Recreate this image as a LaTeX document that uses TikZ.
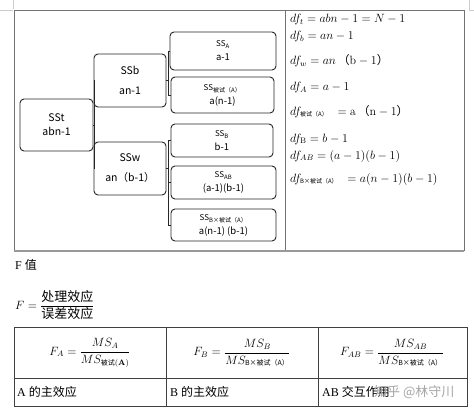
\documentclass[tikz,border=0pt]{standalone}
\usepackage{amsmath}
\usepackage[no-math]{fontspec}
\setmainfont{Liberation Serif}
\newfontfamily\cjk{Noto Sans CJK SC}
\newcommand\zh[1]{{\cjk #1}}
\begin{document}
\begin{tikzpicture}[x=1pt,y=-1pt,
  bigbox/.style={draw=black!85,line width=0.9pt,rounded corners=4pt,inner sep=0pt,align=center,
    font=\cjk\fontsize{10.5}{15}\selectfont},
  smallbox/.style={draw=black!85,line width=0.9pt,rounded corners=4pt,inner sep=0pt,align=center,
    font=\cjk\fontsize{9.5}{14}\selectfont},
  conn/.style={draw=black!85,line width=0.7pt},
  eq/.style={anchor=base west,inner sep=0pt,font=\fontsize{11.8}{13}\selectfont},
  tline/.style={draw=black!75,line width=0.6pt},
  fcell/.style={inner sep=0pt,font=\fontsize{12}{14}\selectfont},
  txt/.style={anchor=base west,inner sep=0pt,font=\fontsize{12}{14}\selectfont}]
\useasboundingbox[fill=white] (0,0) rectangle (474,412);
% faint corner marks
\draw[black!20,line width=0.5pt] (13,0) -- (13,9) (0,10) -- (13,10);
\draw[black!20,line width=0.5pt] (469,0) -- (469,10) -- (474,10);
% top table
\draw[black!55,line width=0.8pt] (14,251) -- (14,10) -- (464,10) -- (464,251);
\draw[black!55,line width=0.8pt] (285,10) -- (285,251);
\draw[black!40,line width=1.6pt] (14,251) -- (464,251);
% boxes
\node[bigbox,minimum width=73,minimum height=52] (SSt) at (56.5,125) {SSt\\[-1pt]abn-1};
\node[bigbox,minimum width=72,minimum height=53] (SSb) at (130,80.5) {SSb\\[5pt]an-1};
\node[bigbox,minimum width=72,minimum height=53] (SSw) at (130,168.5) {SSw\\[5pt]an（b-1）};
\node[smallbox,minimum width=106,minimum height=38] (SSA) at (223,51) {{\fontsize{8}{10}\selectfont SS\textsubscript{A}}\\a-1};
\node[smallbox,minimum width=103,minimum height=36] (SSS) at (222.5,95) {{\fontsize{8}{10}\selectfont SS\textsubscript{被试（A）}}\\a(n-1)};
\node[smallbox,minimum width=102,minimum height=33] (SSB) at (222,140.5) {{\fontsize{8}{10}\selectfont SS\textsubscript{B}}\\b-1};
\node[smallbox,minimum width=105,minimum height=33] (SSAB) at (223.5,182.5) {{\fontsize{8}{10}\selectfont SS\textsubscript{AB}}\\(a-1)(b-1)};
\node[smallbox,minimum width=105,minimum height=32] (SSBS) at (223.5,225) {{\fontsize{8}{10}\selectfont SS\textsubscript{B×被试（A）}}\\a(n-1) (b-1)};
% connectors
\draw[conn] (SSt.east) -- ++(1,0) |- (SSb.west);
\draw[conn] (SSt.east) -- ++(1,0) |- (SSw.west);
\foreach \c in {SSA,SSS} \draw[conn] (SSb.east) -- ++(2,0) |- (\c.west);
\foreach \c in {SSB,SSAB,SSBS} \draw[conn] (SSw.east) -- ++(2,0) |- (\c.west);
% df equations
\node[eq] (d1) at (290,23) {$df_t=abn-1=N-1$};
\node[eq] (d2) at (290,40) {$df_b=an-1$};
\node[eq] (d3) at (290,65) {$df_w=an\,\text{\cjk（}\mathrm{b}-1\text{\cjk）}$};
\node[eq] (d4) at (290,91) {$df_A=a-1$};
\node[eq] (d5) at (290,115) {$df_{\text{\cjk\fontsize{6}{7}\selectfont 被试（A）}}\ \ =\mathrm{a}\,\text{\cjk（}\mathrm{n}-1\text{\cjk）}$};
\node[eq] (d6) at (290,142) {$df_{\mathrm{B}}=b-1$};
\node[eq] (d7) at (290,159) {$df_{AB}=(a-1)(b-1)$};
\node[eq] (d8) at (290,182) {$df_{\text{\cjk\fontsize{6}{7}\selectfont B×被试（A）}}\ \ =a(n-1)(b-1)$};
% F value
\node[txt] (fv) at (15,269) {F \zh{值}};
\node[anchor=west,inner sep=0pt,font=\fontsize{12}{14}\selectfont] (ff) at (15,305)
  {$F=\dfrac{\text{\cjk\fontsize{13}{15}\selectfont 处理效应}}{\text{\cjk\fontsize{13}{15}\selectfont 误差效应}}$};
% bottom table
\draw[tline] (14,327) rectangle (467,406);
\draw[tline] (14,378) -- (467,378);
\draw[tline] (166,327) -- (166,406);
\draw[tline] (318,327) -- (318,406);
\node[fcell] (fa) at (90,353)
  {$F_A=\dfrac{MS_A}{MS_{\text{\cjk\fontsize{7}{8}\selectfont 被试}(\mathbf{A})}}$};
\node[fcell] (fb) at (242,353)
  {$F_B=\dfrac{MS_B}{MS_{\text{\cjk\fontsize{7}{8}\selectfont B×被试（A）}}}$};
\node[fcell] (fab) at (392,353)
  {$F_{AB}=\dfrac{MS_{AB}}{MS_{\text{\cjk\fontsize{7}{8}\selectfont B×被试（A）}}}$};
\node[txt] (ta) at (17,396) {A \zh{的主效应}};
\node[txt] (tb) at (170,396) {B \zh{的主效应}};
\node[txt] (tab) at (322,396) {AB \zh{交互作用}};
\node[anchor=base west,inner sep=0pt,text=black!35,font=\cjk\fontsize{13}{15}\selectfont] (wm) at (374,396) {知乎 @林守川};
\end{tikzpicture}
\end{document}
